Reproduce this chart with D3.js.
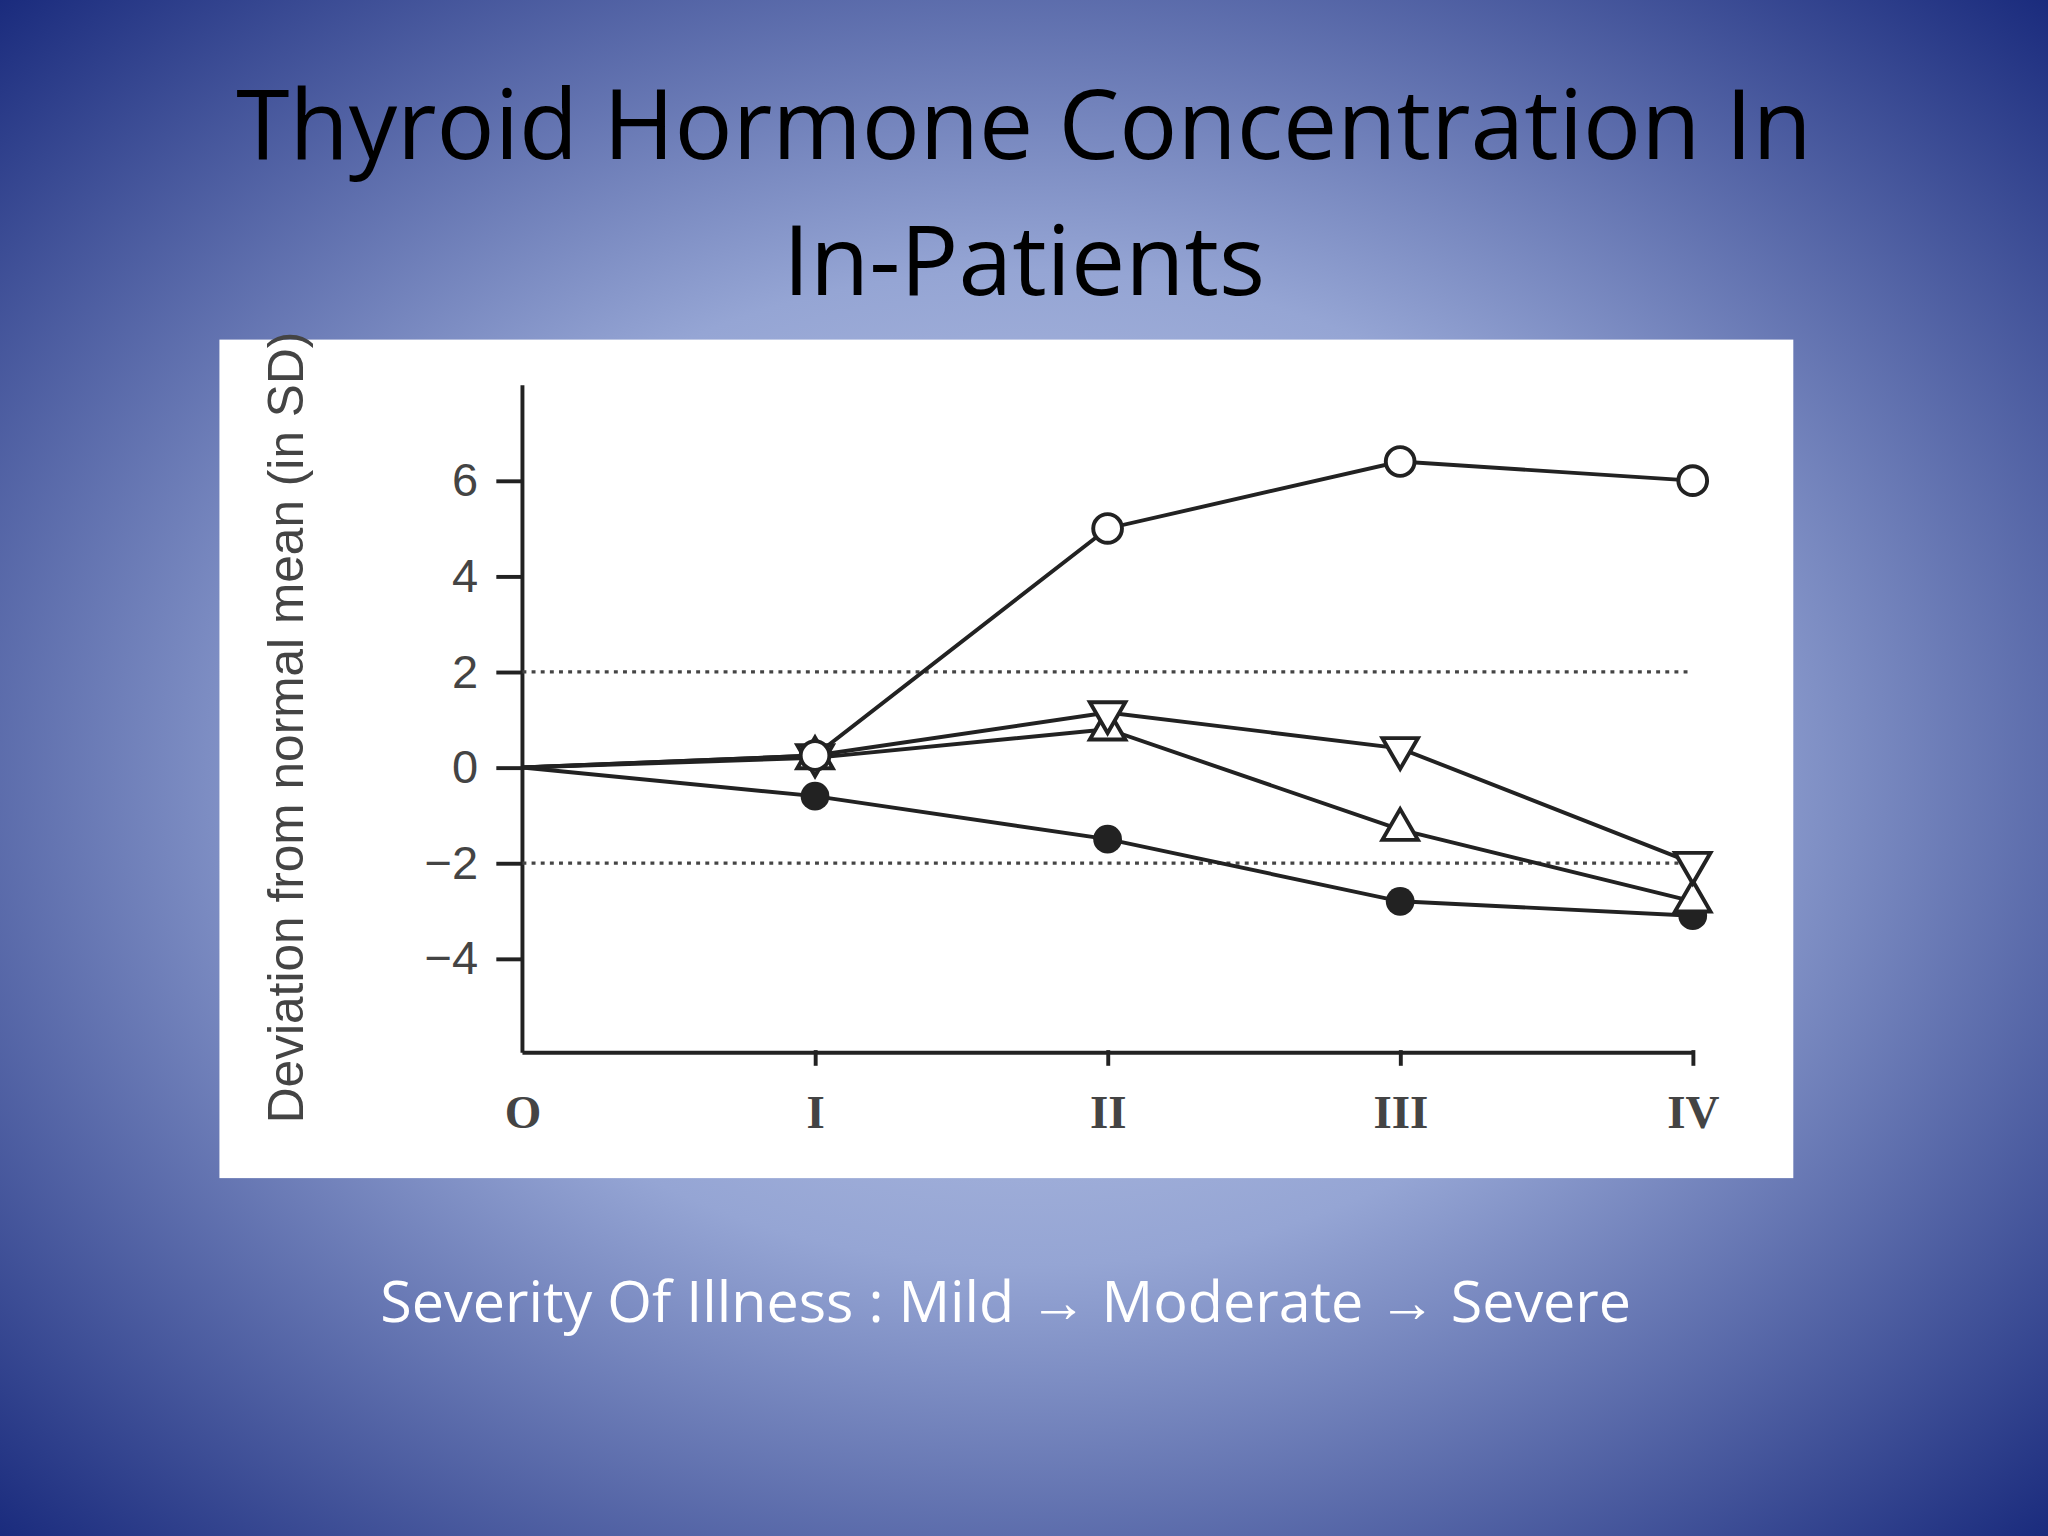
<!DOCTYPE html>
<html><head><meta charset="utf-8">
<script src="https://cdn.jsdelivr.net/npm/d3@7"></script>
<style>html,body{margin:0;padding:0;overflow:hidden}</style>
</head><body>
<script>
const categories = ["O","I","II","III","IV"];
const yTicks = [6,4,2,0,-2,-4];
const refLines = [2,-2];
const seriesOpenCircle = [0,0.25,5.0,6.4,6.0];
const seriesDownTri = [0,0.25,1.15,0.4,-2.0];
const seriesUpTri = [0,0.2,0.8,-1.3,-2.8];
const seriesFilledCircle = [0,-0.6,-1.5,-2.8,-3.1];

const svg = d3.select("body").append("svg").attr("width",2048).attr("height",1536)
  .attr("viewBox","0 0 1568 1176");
const defs = svg.append("defs");
const g = defs.append("radialGradient").attr("id","bg").attr("cx","50%").attr("cy","50%").attr("r","72%");
g.append("stop").attr("offset","0%").attr("stop-color","#c3cdea");
g.append("stop").attr("offset","45%").attr("stop-color","#95a5d4");
g.append("stop").attr("offset","100%").attr("stop-color","#16277a");
svg.append("rect").attr("width",1568).attr("height",1176).attr("fill","url(#bg)");

svg.append("text").attr("x",784).attr("y",122).attr("text-anchor","middle")
  .attr("font-family","Open Sans").attr("font-size",74).attr("fill","#000")
  .text("Thyroid Hormone Concentration In");
svg.append("text").attr("x",784).attr("y",226).attr("text-anchor","middle")
  .attr("font-family","Open Sans").attr("font-size",74).attr("fill","#000")
  .text("In-Patients");
svg.append("text").attr("x",770).attr("y",1012).attr("text-anchor","middle")
  .attr("font-family","Open Sans").attr("font-size",44).attr("fill","#fff")
  .text("Severity Of  Illness : Mild \u2192 Moderate \u2192 Severe");

svg.append("rect").attr("x",168).attr("y",260).attr("width",1205).attr("height",642).attr("fill","#fff");

const x = d3.scalePoint().domain(categories).range([400,1296]);
const y = d3.scaleLinear().domain([-4,6]).range([734,368]);
const col = "#222";

// axes
svg.append("line").attr("x1",400).attr("x2",400).attr("y1",295).attr("y2",806).attr("stroke",col).attr("stroke-width",3);
const yAx = svg.append("g").attr("transform","translate(400,0)")
  .call(d3.axisLeft(y).tickValues(yTicks).tickSize(20).tickPadding(14));
yAx.select(".domain").remove();
yAx.selectAll("line").attr("stroke",col).attr("stroke-width",3);
yAx.selectAll("text").attr("font-family","Liberation Sans").attr("font-size",36).attr("fill","#444");

const xAx = svg.append("g").attr("transform","translate(0,806)")
  .call(d3.axisBottom(x).tickSize(10).tickPadding(22));
xAx.select(".domain").attr("d","M400,0H1296").attr("stroke",col).attr("stroke-width",3);
xAx.selectAll("line").attr("stroke",col).attr("stroke-width",3).attr("y1",-2);
xAx.selectAll(".tick").filter(d=>d==="O").select("line").remove();
xAx.selectAll("text").attr("font-family","Liberation Serif").attr("font-weight","bold").attr("font-size",36).attr("fill","#444");

svg.append("text").attr("transform","translate(232,557) rotate(-90)").attr("text-anchor","middle")
  .attr("font-family","Liberation Sans").attr("font-size",38).attr("fill","#444")
  .text("Deviation from normal mean (in SD)");

refLines.forEach(v=>svg.append("line").attr("x1",400).attr("x2",1296).attr("y1",y(v)).attr("y2",y(v))
  .attr("stroke","#444").attr("stroke-width",2.5).attr("stroke-dasharray","3,4"));

const line = d3.line().x((d,i)=>x(categories[i])).y(d=>y(d));
const all = [
  {d:seriesFilledCircle,t:"fc"},{d:seriesUpTri,t:"ut"},{d:seriesDownTri,t:"dt"},{d:seriesOpenCircle,t:"oc"}];
all.forEach(s=>svg.append("path").attr("d",line(s.d)).attr("fill","none").attr("stroke",col).attr("stroke-width",3));
all.forEach(s=>{
  s.d.forEach((v,i)=>{
    if(i===0) return;
    const cx=x(categories[i]), cy=y(v);
    if(s.t==="fc") svg.append("circle").attr("cx",cx).attr("cy",cy).attr("r",11).attr("fill",col);
    else if(s.t==="oc") svg.append("circle").attr("cx",cx).attr("cy",cy).attr("r",11).attr("fill","#fff").attr("stroke",col).attr("stroke-width",3);
    else {
      const sym=d3.symbol().type(d3.symbolTriangle).size(320)();
      svg.append("path").attr("d",sym).attr("transform",`translate(${cx},${cy})${s.t==="dt"?" rotate(180)":""}`)
        .attr("fill","#fff").attr("stroke",col).attr("stroke-width",3);
    }
  });
});
</script>
</body></html>
